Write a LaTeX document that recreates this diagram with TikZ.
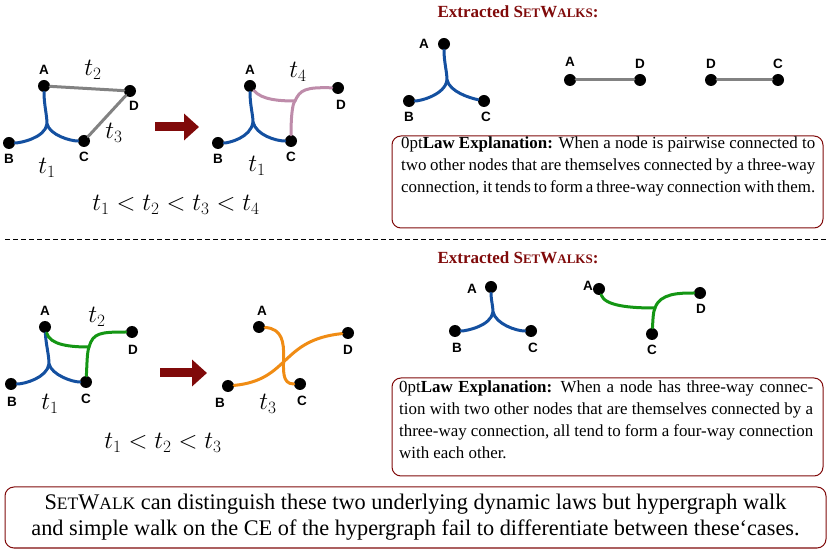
\documentclass[tikz,border=0pt]{standalone}
\usepackage{fontspec}
\setmainfont{Liberation Serif}
\newfontfamily\lblfont{Liberation Sans}
\usetikzlibrary{arrows.meta}
\definecolor{dred}{RGB}{128,10,10}
\definecolor{eblue}{RGB}{20,80,160}
\definecolor{egrey}{RGB}{130,130,130}
\definecolor{epink}{RGB}{190,140,170}
\definecolor{egreen}{RGB}{20,150,20}
\definecolor{eorange}{RGB}{240,140,20}
\tikzset{
  vtx/.style={circle,fill=black,inner sep=0pt,minimum size=12pt},
  lbl/.style={font=\lblfont\bfseries\fontsize{13.5}{13.5}\selectfont,inner sep=1pt},
  edge/.style={line width=3pt,line cap=round},
  tl/.style={font=\fontsize{24}{24}\selectfont,inner sep=0pt},
  bigarrow/.style={-{Triangle[length=15pt,width=26pt]},line width=9pt,dred},
  lawbox/.style={draw=dred,rounded corners=9pt,line width=1pt},
  lawtext/.style={font=\fontsize{16.9}{22}\selectfont\hyphenpenalty=10000\exhyphenpenalty=10000,align=justify,text width=414pt,inner sep=0pt,anchor=north west},
  ttl/.style={font=\bfseries\fontsize{17}{17}\selectfont,text=dred}
}
\begin{document}
\begin{tikzpicture}[x=1pt,y=-1pt]
\useasboundingbox (0,0) rectangle (831,553);
% panel 1
\node[vtx] (a1) at (44,86) {}; \node[vtx] (b1) at (9,143) {};
\node[vtx] (c1) at (84,141) {}; \node[vtx] (d1) at (130,91) {};
\node[lbl] at (44,70) {A}; \node[lbl] at (9,159) {B}; \node[lbl] at (84,157) {C}; \node[lbl] at (134,106) {D};
\coordinate (j1) at (47,124);
\draw[edge,eblue] (a1) .. controls (44,105) and (47,115) .. (j1) .. controls (45,138) and (20,143) .. (b1);
\draw[edge,eblue] (j1) .. controls (50,135) and (70,141) .. (c1);
\draw[edge,egrey] (a1) -- (d1); \draw[edge,egrey] (d1) -- (c1);
\node[tl] at (93,70) {$t_2$}; \node[tl] at (114,133) {$t_3$}; \node[tl] at (47,168) {$t_1$};
\node (ar1s) at (155,127) {}; \node (ar1e) at (199,127) {};
\draw[bigarrow] (ar1s.center) -- (ar1e.center);
% panel 2
\node[vtx] (a2) at (250,86) {}; \node[vtx] (b2) at (218,143) {};
\node[vtx] (c2) at (291,141) {}; \node[vtx] (d2) at (338,88) {};
\node[lbl] at (250,70) {A}; \node[lbl] at (218,159) {B}; \node[lbl] at (291,157) {C}; \node[lbl] at (341,105) {D};
\coordinate (j2) at (253,122);
\draw[edge,eblue] (a2) .. controls (250,105) and (253,115) .. (j2) .. controls (251,138) and (228,143) .. (b2);
\draw[edge,eblue] (j2) .. controls (256,135) and (276,141) .. (c2);
\coordinate (k2) at (295,101);
\draw[edge,epink] (a2) .. controls (262,100) and (280,101) .. (k2);
\draw[edge,epink] (c2) .. controls (291,120) and (292,104) .. (k2) .. controls (300,90) and (305,87) .. (d2);
\node[tl] at (298,72) {$t_4$}; \node[tl] at (257,166) {$t_1$};
\node[font=\fontsize{25}{25}\selectfont] (ord1) at (176,205) {$t_1<t_2<t_3<t_4$};
% extracted 1
\node[ttl] (tt1) at (518,12) {Extracted S{\fontsize{13}{13}\selectfont ET}W{\fontsize{13}{13}\selectfont ALKS}:};
\node[vtx] (ea1) at (444,44) {}; \node[vtx] (eb1) at (409,101) {}; \node[vtx] (ec1) at (484,101) {};
\node[lbl] at (424,44) {A}; \node[lbl] at (409,117) {B}; \node[lbl] at (486,117) {C};
\coordinate (ej1) at (447,80);
\draw[edge,eblue] (ea1) .. controls (444,62) and (447,72) .. (ej1) .. controls (445,95) and (420,101) .. (eb1);
\draw[edge,eblue] (ej1) .. controls (450,92) and (470,98) .. (ec1);
\node[vtx] (ea2) at (570,80) {}; \node[vtx] (ed2) at (640,80) {};
\node[lbl] at (570,62) {A}; \node[lbl] at (640,64) {D};
\draw[edge,egrey] (ea2) -- (ed2);
\node[vtx] (ed3) at (711,80) {}; \node[vtx] (ec3) at (778,80) {};
\node[lbl] at (711,64) {D}; \node[lbl] at (778,64) {C};
\draw[edge,egrey] (ed3) -- (ec3);
\node[lawbox,minimum width=431pt,minimum height=92pt] (box1) at (607.5,182) {};
\node[lawtext] (lt1) at (401,137) {\textbf{Law Explanation:} When a node is pairwise connected to two other nodes that are themselves connected by a three-way connection, it tends to form a three-way connection with them.};
% separator
\coordinate (s1) at (5,240); \coordinate (s2) at (826,240);
\draw[line width=1pt,dash pattern=on 5pt off 3pt] (s1) -- (s2);
% panel 3
\node[vtx] (a3) at (45,327) {}; \node[vtx] (b3) at (11,384) {};
\node[vtx] (c3) at (86,382) {}; \node[vtx] (d3) at (132,332) {};
\node[lbl] at (45,311) {A}; \node[lbl] at (12,402) {B}; \node[lbl] at (86,399) {C}; \node[lbl] at (133,350) {D};
\coordinate (j3) at (49,364);
\draw[edge,eblue] (a3) .. controls (46,345) and (49,355) .. (j3) .. controls (47,378) and (24,384) .. (b3);
\draw[edge,eblue] (j3) .. controls (52,375) and (72,382) .. (c3);
\coordinate (k3) at (89,347);
\draw[edge,egreen] (a3) .. controls (50,345) and (70,347) .. (k3);
\draw[edge,egreen] (c3) .. controls (87,365) and (87,352) .. (k3) .. controls (93,333) and (100,332) .. (d3);
\node[tl] at (97,317) {$t_2$}; \node[tl] at (50,404) {$t_1$};
\node (ar2s) at (160,373) {}; \node (ar2e) at (207,373) {};
\draw[bigarrow] (ar2s.center) -- (ar2e.center);
% panel 4
\node[vtx] (a4) at (259,327) {}; \node[vtx] (b4) at (228,386) {};
\node[vtx] (c4) at (300,384) {}; \node[vtx] (d4) at (348,333) {};
\node[lbl] at (262,311) {A}; \node[lbl] at (220,403) {B}; \node[lbl] at (302,401) {C}; \node[lbl] at (348,350) {D};
\draw[edge,eorange] (b4) .. controls (290,380) and (280,340) .. (d4);
\draw[edge,eorange] (a4) .. controls (300,330) and (270,384) .. (c4);
\node[tl] at (268,404) {$t_3$};
\node[font=\fontsize{25}{25}\selectfont] (ord2) at (163,443) {$t_1<t_2<t_3$};
% extracted 2
\node[ttl] (tt2) at (518,258) {Extracted S{\fontsize{13}{13}\selectfont ET}W{\fontsize{13}{13}\selectfont ALKS}:};
\node[vtx] (fa1) at (491,287) {}; \node[vtx] (fb1) at (455,331) {}; \node[vtx] (fc1) at (531,331) {};
\node[lbl] at (472,289) {A}; \node[lbl] at (457,348) {B}; \node[lbl] at (533,348) {C};
\coordinate (fj1) at (493,312);
\draw[edge,eblue] (fa1) .. controls (491,300) and (493,306) .. (fj1) .. controls (491,326) and (466,331) .. (fb1);
\draw[edge,eblue] (fj1) .. controls (496,324) and (516,331) .. (fc1);
\node[vtx] (ga) at (599,289) {}; \node[vtx] (gd) at (700,293) {}; \node[vtx] (gc) at (652,334) {};
\node[lbl] at (588,286) {A}; \node[lbl] at (701,309) {D}; \node[lbl] at (652,350) {C};
\coordinate (gk) at (655,308);
\draw[edge,egreen] (ga) .. controls (605,306) and (630,308) .. (gk);
\draw[edge,egreen] (gc) .. controls (653,320) and (653,312) .. (gk) .. controls (660,293) and (680,293) .. (gd);
\node[lawbox,minimum width=431pt,minimum height=98pt] (box2) at (607.5,427) {};
\node[lawtext] (lt2) at (399,381) {\textbf{Law Explanation:} When a node has three-way connection with two other nodes that are themselves connected by a three-way connection, all tend to form a four-way connection with each other.};
% bottom
\node[draw=dred,rounded corners=9pt,line width=1pt,minimum width=821pt,minimum height=61pt] (box3) at (415.5,517.5) {};
\node[font=\fontsize{22.3}{26}\selectfont,align=center] (bt) at (415.5,517.5) {S{\fontsize{17.5}{17.5}\selectfont ET}W{\fontsize{17.5}{17.5}\selectfont ALK} can distinguish these two underlying dynamic laws but hypergraph walk\\and simple walk on the CE of the hypergraph fail to differentiate between these`cases.};
\end{tikzpicture}
\end{document}
